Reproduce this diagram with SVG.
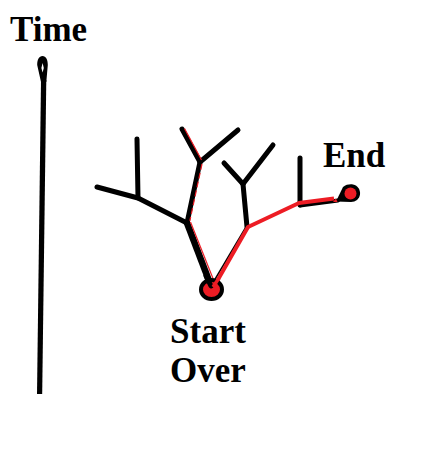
<svg xmlns="http://www.w3.org/2000/svg" width="443" height="476" viewBox="0 0 443 476">
<style>
  .lbl { font-family: "Liberation Serif", "Times New Roman", serif; font-weight: bold; font-size: 35px; fill: #000; }
  .blk { stroke: #000; stroke-width: 5; stroke-linecap: round; stroke-linejoin: round; fill: none; }
  .red { stroke: #ed1c24; stroke-width: 4; stroke-linecap: butt; stroke-linejoin: round; fill: none; }
  .redthin { stroke: #ed1c24; stroke-width: 1.2; fill: none; }
</style>
<rect width="443" height="476" fill="#fff"/>

<g id="time">
  <text class="lbl" x="10" y="41">Time</text>
  <path fill="#000" fill-rule="evenodd" d="M42.5,56 C46,56 47.8,59.5 47.8,65 L46.3,82 L41,82 L37.2,65 C37.2,59.5 39,56 42.5,56 Z M42.6,63 L43.8,68 L42.6,72.5 L41.4,68 Z"/>
  <polygon fill="#000" points="41,80 46.3,80 42.2,394 37,394"/>
</g>

<g id="connectors">
  <!-- left branch -->
  <polyline class="blk" points="187,223 138,198 97,187"/>
  <line class="blk" x1="138" y1="198" x2="137" y2="139"/>
  <!-- upper branch -->
  <line class="blk" x1="187" y1="223" x2="200" y2="162"/>
  <line class="blk" x1="200" y1="162" x2="182" y2="129"/>
  <line class="blk" x1="200" y1="162" x2="238" y2="130"/>
  <line class="redthin" x1="184.5" y1="128.5" x2="201.5" y2="160"/>
  <line class="redthin" x1="202" y1="164" x2="189.8" y2="221" stroke-dasharray="6 3"/>
  <!-- main trunk -->
  <line stroke="#000" stroke-width="6.5" stroke-linecap="round" x1="187" y1="223" x2="211" y2="286"/>
  <line class="redthin" x1="190.5" y1="222" x2="214" y2="281" stroke-width="1.5"/>
  <!-- right branch -->
  <line class="blk" x1="247" y1="227" x2="243" y2="184"/>
  <line class="blk" x1="243" y1="184" x2="224" y2="163"/>
  <line class="blk" x1="243" y1="184" x2="273" y2="145"/>
  <line class="blk" x1="300" y1="205" x2="300" y2="158"/>
  <line stroke="#000" stroke-width="4" stroke-linecap="round" x1="300" y1="205.5" x2="338" y2="200.5"/>
  <!-- red path -->
  <line stroke="#000" stroke-width="1.5" x1="214" y1="281" x2="246" y2="227"/>
  <polyline class="red" points="216,283 248,227 299,203 334,198.5"/>
</g>

<g id="start">
  <ellipse cx="211.5" cy="289.5" rx="10.5" ry="9.5" fill="#ed1c24" stroke="#000" stroke-width="4"/>
  <line stroke="#000" stroke-width="5" stroke-linecap="round" x1="206" y1="276" x2="211" y2="286"/>
  <line stroke="#ed1c24" stroke-width="3.5" x1="213" y1="287" x2="219" y2="278"/>
  <text class="lbl" x="208" y="343" text-anchor="middle" font-size="36">Start</text>
  <text class="lbl" x="208" y="382" text-anchor="middle" font-size="36">Over</text>
</g>

<g id="end">
  <path d="M336,201.5 L343,187 C346,184.5 350,184 353,184.5 C358,185.5 360.5,190 360,194.5 C359.5,199 355.5,202 351,202 Z" fill="#000"/>
  <circle cx="350.5" cy="193.5" r="6" fill="#ed1c24"/>
  <path d="M333,202 L336,198.5 L337.5,202 Z" fill="#ed1c24"/>
  <text class="lbl" x="323" y="167">End</text>
</g>
</svg>
